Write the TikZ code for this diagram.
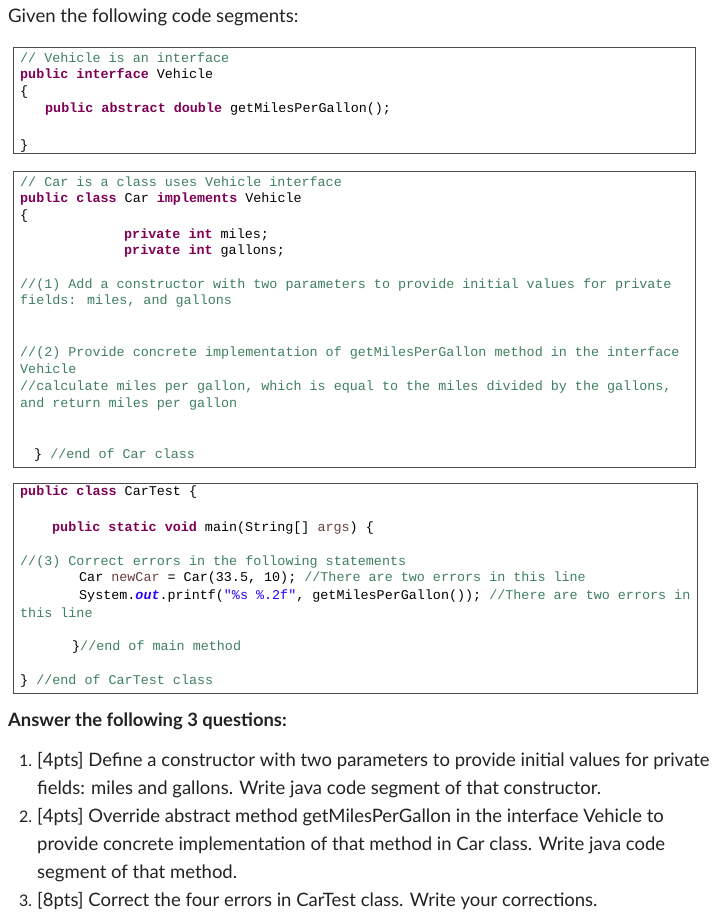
\documentclass[tikz,border=0pt]{standalone}
\usepackage{fontspec}
\setmainfont{Lato}
\newfontfamily\codefont{Liberation Mono}
\definecolor{cmt}{RGB}{63,127,95}
\definecolor{kwc}{RGB}{127,0,85}
\definecolor{strc}{RGB}{42,0,255}
\definecolor{varc}{RGB}{106,62,62}
\definecolor{txt}{RGB}{34,34,34}
\newcommand{\kw}[1]{\textcolor{kwc}{\bfseries #1}}
\newcommand{\cm}[1]{\textcolor{cmt}{#1}}
\tikzset{
  code/.style={anchor=west,inner sep=0pt,font=\codefont\fontsize{13.4}{15}\selectfont,text=black},
  body/.style={anchor=west,inner sep=0pt,font=\fontsize{18.5}{20}\selectfont,text=txt},
  codebox/.style={draw=black!70,line width=0.8pt},
}
\begin{document}
\begin{tikzpicture}[x=1pt,y=-1pt]
\useasboundingbox (0,0) rectangle (721,915);
\node[body,font=\fontsize{18.6}{20}\selectfont] (t1) at (8,17) {Given the following code segments:};
% box 1
\draw[codebox] (13,47) rectangle (695,153);
\node[code] (a1) at (20,58) {\cm{// Vehicle is an interface}};
\node[code] (a2) at (20,75) {\kw{public interface} Vehicle};
\node[code] (a3) at (20,92) {\{};
\node[code] (a4) at (45,109) {\kw{public abstract double} getMilesPerGallon();};
\node[code] (a5) at (20,146) {\}};
% box 2
\draw[codebox] (13,171) rectangle (695,467);
\node[code] (b1) at (20,182) {\cm{// Car is a class uses Vehicle interface}};
\node[code] (b2) at (20,199) {\kw{public class} Car \kw{implements} Vehicle};
\node[code] (b3) at (20,216) {\{};
\node[code] (b4) at (124,235) {\kw{private int} miles;};
\node[code] (b5) at (124,251) {\kw{private int} gallons;};
\node[code] (b6) at (20,285) {\cm{//(1) Add a constructor with two parameters to provide initial values for private}};
\node[code] (b7) at (20,301) {\cm{fields: miles, and gallons}};
\node[code] (b8) at (20,353) {\cm{//(2) Provide concrete implementation of getMilesPerGallon method in the interface}};
\node[code] (b9) at (20,369) {\cm{Vehicle}};
\node[code] (b10) at (20,387) {\cm{//calculate miles per gallon, which is equal to the miles divided by the gallons,}};
\node[code] (b11) at (20,404) {\cm{and return miles per gallon}};
\node[code] (b12) at (34,455) {\} \cm{//end of Car class}};
% box 3
\draw[codebox] (13,483) rectangle (697,693);
\node[code] (c1) at (20,492) {\kw{public class} CarTest \{};
\node[code] (c2) at (52,528) {\kw{public static void} main(String[] \textcolor{varc}{args}) \{};
\node[code] (c3) at (20,562) {\cm{//(3) Correct errors in the following statements}};
\node[code] (c4) at (79,578) {Car \textcolor{varc}{newCar} = Car(33.5, 10);  \cm{//There are two errors in this line}};
\node[code] (c5) at (79,596) {System.\textcolor{strc}{\bfseries\itshape out}.printf(\textcolor{strc}{"\%s \%.2f"}, getMilesPerGallon()); \cm{//There are two errors in}};
\node[code] (c6) at (20,613) {\cm{this line}};
\node[code] (c7) at (72,647) {\}\cm{//end of main method}};
\node[code] (c8) at (20,681) {\} \cm{//end of CarTest class}};
% questions
\node[body,font=\bfseries\fontsize{18.4}{20}\selectfont] (q0) at (8,721) {Answer the following 3 questions:};
\node[body,font=\fontsize{16}{18}\selectfont] (n1) at (19,761) {1.};
\node[body] (q1a) at (37,761) {[4pts] Define a constructor with two parameters to provide initial values for private};
\node[body] (q1b) at (37,789) {fields: miles and gallons. Write java code segment of that constructor.};
\node[body,font=\fontsize{16}{18}\selectfont] (n2) at (19,817) {2.};
\node[body] (q2a) at (37,817) {[4pts] Override abstract method getMilesPerGallon in the interface Vehicle to};
\node[body] (q2b) at (37,845) {provide concrete implementation of that method in Car class. Write java code};
\node[body] (q2c) at (37,873) {segment of that method.};
\node[body,font=\fontsize{16}{18}\selectfont] (n3) at (19,901) {3.};
\node[body] (q3a) at (37,901) {[8pts] Correct the four errors in CarTest class. Write your corrections.};
\end{tikzpicture}
\end{document}
